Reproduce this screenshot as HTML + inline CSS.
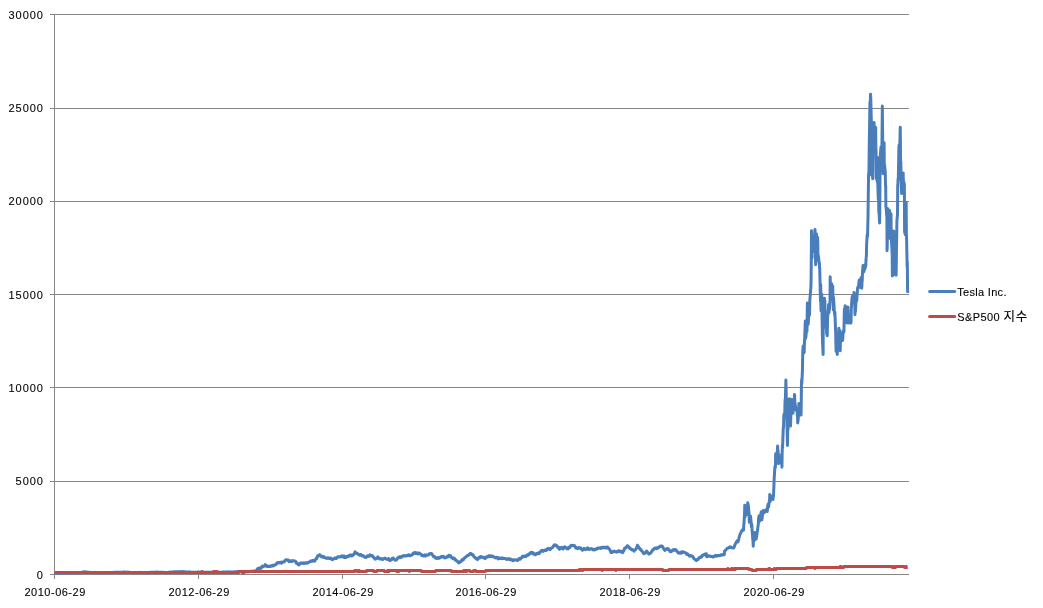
<!DOCTYPE html>
<html><head><meta charset="utf-8"><style>
html,body{margin:0;padding:0;background:#fff;}
body{width:1043px;height:608px;overflow:hidden;}
svg{display:block;}
text{font-family:"Liberation Sans", "Noto Sans CJK KR", sans-serif;font-size:11px;fill:#000;stroke:#000;stroke-width:0.1px;}
</style></head><body>
<svg width="1043" height="608" viewBox="0 0 1043 608">
<rect width="1043" height="608" fill="#fff"/>
<rect x="50" y="14" width="859" height="1" fill="#868686"/><rect x="50" y="108" width="859" height="1" fill="#868686"/><rect x="50" y="201" width="859" height="1" fill="#868686"/><rect x="50" y="294" width="859" height="1" fill="#868686"/><rect x="50" y="387" width="859" height="1" fill="#868686"/><rect x="50" y="481" width="859" height="1" fill="#868686"/><rect x="54" y="14" width="1" height="561" fill="#868686"/><rect x="50" y="574" width="859" height="1" fill="#868686"/><rect x="54" y="575" width="1" height="4" fill="#868686"/><rect x="198" y="575" width="1" height="4" fill="#868686"/><rect x="342" y="575" width="1" height="4" fill="#868686"/><rect x="485" y="575" width="1" height="4" fill="#868686"/><rect x="629" y="575" width="1" height="4" fill="#868686"/><rect x="773" y="575" width="1" height="4" fill="#868686"/>
<path d="M54.50 572.63L54.89 572.78L55.22 572.92L55.55 573.10L55.88 573.24L56.07 573.27L56.37 573.20L56.67 573.11L56.96 573.05L57.26 573.05L57.60 573.01L57.94 572.99L58.29 572.94L58.63 572.89L58.93 572.92L59.22 572.86L59.52 572.93L59.81 572.98L60.11 573.02L60.40 572.96L60.70 572.90L61.00 572.88L61.29 572.88L61.59 572.92L61.88 572.94L62.18 572.99L62.47 572.98L62.77 573.02L63.06 573.03L63.36 572.99L63.65 573.07L63.95 573.09L64.24 573.14L64.54 573.11L64.83 573.06L65.13 573.04L65.42 573.03L65.72 573.05L66.06 573.07L66.41 573.05L66.75 573.00L67.10 572.98L67.38 573.03L67.67 572.98L67.95 572.99L68.24 573.01L68.52 572.93L68.81 572.92L69.09 572.98L69.38 572.87L69.67 572.85L69.95 572.84L70.24 572.79L70.52 572.81L70.81 572.80L71.09 572.72L71.38 572.76L71.66 572.79L71.95 572.83L72.23 572.89L72.52 572.91L72.80 572.91L73.09 572.86L73.38 572.90L73.66 572.89L73.95 572.88L74.23 572.83L74.52 572.80L74.80 572.79L75.09 572.87L75.37 572.78L75.66 572.72L75.94 572.75L76.23 572.84L76.51 572.88L76.80 572.80L77.09 572.69L77.37 572.72L77.66 572.70L77.94 572.66L78.23 572.73L78.51 572.80L78.81 572.74L79.10 572.68L79.40 572.64L79.69 572.65L79.99 572.62L80.28 572.57L80.58 572.54L80.87 572.39L81.17 572.39L81.46 572.37L81.76 572.33L82.06 572.16L82.35 572.10L82.65 572.11L82.94 571.98L83.24 571.94L83.53 571.96L83.83 571.86L84.12 571.91L84.42 571.90L84.71 571.86L85.01 571.84L85.30 571.90L85.60 571.93L85.89 572.01L86.19 572.00L86.48 572.00L86.78 572.08L87.07 572.11L87.37 572.09L87.66 572.17L87.96 572.27L88.26 572.28L88.55 572.24L88.85 572.26L89.14 572.28L89.44 572.30L89.73 572.40L90.03 572.37L90.32 572.47L90.62 572.43L90.91 572.42L91.20 572.44L91.49 572.49L91.78 572.52L92.07 572.53L92.37 572.53L92.66 572.52L92.95 572.54L93.24 572.52L93.53 572.53L93.82 572.55L94.11 572.54L94.40 572.56L94.69 572.58L94.98 572.67L95.27 572.68L95.56 572.65L95.85 572.62L96.14 572.61L96.43 572.64L96.72 572.62L97.01 572.62L97.30 572.73L97.58 572.61L97.87 572.56L98.16 572.59L98.44 572.62L98.73 572.64L99.01 572.63L99.30 572.67L99.58 572.69L99.87 572.68L100.15 572.81L100.44 572.84L100.72 572.82L101.01 572.82L101.30 572.82L101.58 572.83L101.87 572.70L102.15 572.69L102.44 572.75L102.72 572.70L103.01 572.68L103.30 572.71L103.59 572.74L103.88 572.80L104.17 572.69L104.47 572.66L104.76 572.62L105.05 572.64L105.34 572.68L105.63 572.52L105.92 572.56L106.21 572.47L106.50 572.49L106.79 572.40L107.08 572.39L107.37 572.43L107.66 572.41L107.95 572.40L108.24 572.42L108.53 572.41L108.82 572.39L109.11 572.46L109.40 572.51L109.70 572.48L109.99 572.61L110.28 572.55L110.57 572.59L110.86 572.57L111.15 572.57L111.44 572.60L111.73 572.60L112.02 572.63L112.31 572.54L112.60 572.46L112.89 572.48L113.18 572.43L113.47 572.37L113.76 572.29L114.05 572.35L114.34 572.38L114.63 572.44L114.93 572.39L115.21 572.37L115.49 572.29L115.77 572.31L116.05 572.37L116.33 572.30L116.61 572.36L116.89 572.38L117.17 572.35L117.46 572.23L117.74 572.28L118.02 572.26L118.30 572.20L118.58 572.20L118.86 572.20L119.14 572.26L119.42 572.18L119.71 572.22L119.99 572.27L120.27 572.32L120.55 572.29L120.83 572.23L121.11 572.27L121.39 572.27L121.67 572.26L121.95 572.32L122.24 572.30L122.52 572.17L122.80 572.14L123.08 572.03L123.36 572.06L123.64 572.07L123.92 572.03L124.20 572.01L124.49 572.04L124.77 572.04L125.05 572.09L125.33 572.08L125.61 572.12L125.89 572.18L126.17 572.25L126.45 572.20L126.73 572.23L127.02 572.17L127.31 572.15L127.60 572.08L127.89 572.17L128.17 572.14L128.46 572.17L128.75 572.19L129.04 572.22L129.32 572.22L129.61 572.27L129.90 572.39L130.19 572.42L130.47 572.48L130.76 572.56L131.05 572.58L131.34 572.55L131.62 572.55L131.91 572.64L132.20 572.59L132.49 572.59L132.78 572.67L133.06 572.74L133.35 572.77L133.64 572.85L133.93 572.89L134.21 572.86L134.51 572.79L134.80 572.77L135.10 572.83L135.39 572.82L135.69 572.78L135.99 572.76L136.28 572.69L136.58 572.70L136.87 572.65L137.17 572.68L137.46 572.58L137.76 572.60L138.05 572.58L138.35 572.50L138.64 572.55L138.94 572.55L139.22 572.43L139.51 572.38L139.80 572.39L140.08 572.36L140.37 572.40L140.66 572.43L140.94 572.46L141.23 572.47L141.51 572.53L141.80 572.56L142.09 572.57L142.37 572.46L142.66 572.50L142.95 572.56L143.23 572.54L143.52 572.51L143.80 572.61L144.09 572.51L144.38 572.53L144.66 572.65L144.95 572.60L145.24 572.62L145.52 572.69L145.81 572.66L146.09 572.66L146.38 572.68L146.66 572.61L146.95 572.58L147.23 572.56L147.52 572.58L147.80 572.55L148.09 572.51L148.38 572.44L148.66 572.39L148.95 572.41L149.23 572.39L149.52 572.32L149.80 572.25L150.09 572.36L150.37 572.39L150.66 572.39L150.94 572.23L151.23 572.25L151.51 572.25L151.79 572.32L152.07 572.32L152.35 572.30L152.63 572.31L152.91 572.19L153.19 572.23L153.47 572.22L153.76 572.17L154.04 572.22L154.32 572.29L154.60 572.20L154.88 572.15L155.16 572.15L155.44 572.14L155.72 572.10L156.01 572.03L156.29 572.12L156.57 572.16L156.85 572.08L157.13 572.01L157.42 572.10L157.70 572.16L157.99 572.25L158.28 572.30L158.56 572.26L158.85 572.27L159.13 572.17L159.42 572.14L159.70 572.14L159.99 572.17L160.27 572.14L160.56 572.13L160.84 572.16L161.13 572.18L161.42 572.22L161.70 572.24L161.99 572.22L162.27 572.27L162.56 572.27L162.86 572.30L163.17 572.33L163.48 572.39L163.78 572.45L164.09 572.52L164.39 572.59L164.70 572.66L165.01 572.72L165.31 572.72L165.60 572.72L165.89 572.75L166.18 572.75L166.46 572.72L166.75 572.72L167.04 572.65L167.33 572.53L167.61 572.51L167.90 572.44L168.19 572.46L168.48 572.38L168.76 572.23L169.05 572.16L169.34 572.20L169.62 572.14L169.91 572.03L170.19 571.96L170.48 571.95L170.76 571.93L171.05 571.90L171.34 571.94L171.62 571.94L171.91 571.90L172.19 571.89L172.48 571.94L172.76 571.95L173.05 571.96L173.33 571.87L173.62 571.82L173.90 571.82L174.19 571.77L174.47 571.79L174.76 571.78L175.05 571.79L175.33 571.74L175.62 571.83L175.90 571.85L176.19 571.80L176.47 571.77L176.76 571.86L177.04 571.81L177.33 571.81L177.61 571.82L177.90 571.79L178.18 571.69L178.47 571.66L178.76 571.64L179.04 571.66L179.33 571.66L179.61 571.63L179.90 571.63L180.18 571.62L180.47 571.59L180.75 571.62L181.04 571.64L181.33 571.70L181.61 571.67L181.90 571.67L182.19 571.69L182.47 571.65L182.76 571.65L183.04 571.58L183.33 571.57L183.62 571.62L183.90 571.68L184.19 571.70L184.48 571.72L184.76 571.67L185.05 571.79L185.33 571.84L185.62 571.92L185.91 571.90L186.19 571.92L186.48 571.86L186.77 571.92L187.06 572.00L187.35 571.94L187.64 571.96L187.93 572.03L188.22 571.97L188.51 571.91L188.80 571.89L189.09 571.89L189.38 571.85L189.67 571.88L189.96 571.92L190.25 571.99L190.54 572.05L190.83 572.16L191.12 572.25L191.41 572.21L191.71 572.22L192.00 572.20L192.29 572.18L192.58 572.20L192.87 572.23L193.16 572.27L193.45 572.21L193.74 572.17L194.03 572.18L194.32 572.19L194.61 572.19L194.90 572.20L195.19 572.18L195.48 572.23L195.77 572.27L196.06 572.28L196.35 572.26L196.64 572.27L196.94 572.15L197.23 572.12L197.52 572.13L197.81 572.08L198.10 572.10L198.39 572.13L198.68 572.07L198.97 572.08L199.25 572.08L199.53 572.12L199.81 572.16L200.09 572.18L200.38 572.15L200.66 572.16L200.94 572.17L201.22 572.22L201.50 572.26L201.78 572.24L202.06 572.18L202.34 572.18L202.62 572.16L202.91 572.12L203.19 572.13L203.47 572.12L203.75 572.14L204.03 572.18L204.31 572.18L204.59 572.31L204.87 572.31L205.16 572.35L205.46 572.33L205.75 572.37L206.04 572.23L206.33 572.18L206.62 572.17L206.91 572.18L207.20 572.28L207.49 572.27L207.78 572.32L208.07 572.34L208.37 572.36L208.66 572.37L208.95 572.34L209.24 572.35L209.53 572.27L209.82 572.31L210.11 572.24L210.40 572.24L210.69 572.32L210.98 572.29L211.28 572.27L211.57 572.31L211.86 572.29L212.16 572.23L212.45 572.23L212.75 572.24L213.04 572.25L213.34 572.19L213.63 572.26L213.93 572.33L214.22 572.31L214.52 572.30L214.81 572.26L215.11 572.31L215.40 572.26L215.70 572.27L215.99 572.23L216.29 572.17L216.58 572.19L216.88 572.23L217.17 572.22L217.46 572.17L217.75 572.20L218.04 572.18L218.33 572.18L218.62 572.25L218.91 572.29L219.20 572.25L219.50 572.35L219.79 572.34L220.08 572.36L220.37 572.32L220.66 572.30L220.95 572.20L221.24 572.27L221.53 572.33L221.82 572.25L222.11 572.16L222.40 572.07L222.69 572.11L222.98 572.08L223.26 572.07L223.54 572.06L223.83 572.05L224.11 571.99L224.39 571.99L224.67 571.92L224.95 571.91L225.23 571.93L225.51 571.95L225.79 571.94L226.07 571.89L226.36 571.90L226.64 571.87L226.92 571.95L227.20 571.99L227.48 571.98L227.76 571.95L228.04 571.92L228.32 571.87L228.61 571.85L228.89 571.86L229.17 571.89L229.45 571.91L229.73 572.02L230.01 571.98L230.29 571.98L230.57 572.12L230.85 572.02L231.14 572.00L231.42 572.00L231.70 572.01L231.98 572.03L232.26 572.02L232.54 572.03L232.82 572.03L233.10 572.07L233.39 571.98L233.67 571.93L233.95 571.93L234.23 571.87L234.51 571.82L234.79 571.85L235.08 571.80L235.36 571.81L235.65 571.82L235.94 571.82L236.22 571.82L236.51 571.80L236.80 571.70L237.08 571.68L237.37 571.68L237.65 571.64L237.94 571.61L238.23 571.63L238.51 571.56L238.80 571.57L239.09 571.64L239.37 571.59L239.66 571.58L239.94 571.55L240.23 571.61L240.52 571.60L240.80 571.63L241.09 571.57L241.38 571.59L241.67 571.60L241.96 571.53L242.25 571.62L242.54 571.68L242.83 571.61L243.12 571.66L243.41 571.67L243.70 571.71L243.99 571.74L244.28 571.68L244.57 571.69L244.86 571.78L245.15 571.76L245.44 571.73L245.73 571.68L246.02 571.63L246.31 571.66L246.60 571.77L246.89 571.75L247.18 571.73L247.47 571.81L247.76 571.76L248.05 571.69L248.34 571.68L248.63 571.68L248.93 571.60L249.22 571.50L249.51 571.49L249.80 571.47L250.09 571.37L250.38 571.33L250.67 571.27L250.96 571.26L251.25 571.22L251.54 571.18L251.83 571.13L252.12 571.15L252.41 571.19L252.70 571.14L252.98 571.16L253.26 571.10L253.55 571.08L253.83 571.09L254.11 571.14L254.39 571.10L254.67 571.07L254.95 571.06L255.23 570.96L255.51 570.94L255.80 570.88L256.08 570.87L256.36 570.79L256.64 570.67L256.92 570.65L257.20 570.64L257.48 570.59L257.76 570.61L258.04 570.57L258.33 570.52L258.61 570.52L256.90 569.90L257.19 569.18L257.47 568.78L257.76 568.61L258.05 568.74L258.34 568.51L258.62 568.45L258.91 568.06L259.20 568.00L259.49 568.41L259.77 568.01L260.06 568.67L260.35 568.27L260.64 568.11L260.93 568.01L261.21 568.20L261.50 567.60L261.79 566.51L262.08 566.36L262.37 566.28L262.66 566.14L262.95 566.70L263.24 566.41L263.53 566.14L263.82 566.11L264.11 565.88L264.40 566.10L264.69 565.77L264.97 565.75L265.26 564.65L265.54 565.04L265.83 565.01L266.11 565.44L266.40 566.30L266.69 566.41L266.97 566.42L267.26 566.35L267.54 566.17L267.83 566.05L268.11 566.38L268.40 566.50L268.69 566.41L268.97 566.23L269.26 566.44L269.55 566.49L269.84 566.33L270.12 566.44L270.41 566.28L270.70 565.76L270.99 566.15L271.27 566.20L271.56 565.75L271.85 566.01L272.14 566.01L272.43 565.35L272.71 565.80L273.00 565.80L273.29 565.95L273.58 565.85L273.88 565.63L274.17 564.93L274.46 565.10L274.75 564.95L275.04 564.68L275.33 564.64L275.62 564.50L275.92 564.57L276.21 564.28L276.50 564.10L276.78 563.13L277.07 562.76L277.35 562.77L277.63 563.02L277.92 562.67L278.20 562.40L278.48 562.74L278.77 562.40L279.05 562.44L279.33 562.80L279.62 562.59L279.90 562.80L280.19 562.43L280.48 562.37L280.77 562.22L281.07 562.13L281.36 562.40L281.65 563.11L281.94 562.75L282.23 562.43L282.52 562.47L282.82 561.98L283.11 562.03L283.40 562.10L283.69 561.89L283.97 561.96L284.26 561.30L284.54 561.45L284.83 560.79L285.11 560.43L285.40 560.12L285.69 559.86L285.97 560.05L286.26 559.96L286.54 559.70L286.83 559.78L287.11 560.21L287.40 560.10L287.69 560.18L287.97 560.56L288.26 560.60L288.54 560.10L288.83 560.92L289.11 561.64L289.40 560.89L289.69 560.82L289.97 560.92L290.26 561.20L290.54 561.39L290.83 561.24L291.11 560.82L291.40 560.80L291.69 561.34L291.99 561.14L292.28 560.95L292.57 561.12L292.86 560.62L293.16 560.71L293.45 560.74L293.74 561.07L294.04 561.00L294.33 560.87L294.62 560.91L294.91 561.07L295.21 561.02L295.50 561.20L295.78 561.76L296.07 562.47L296.35 563.36L296.63 563.38L296.92 563.53L297.20 562.96L297.48 563.92L297.77 563.96L298.05 564.24L298.33 564.72L298.62 564.54L298.90 565.00L299.19 564.78L299.48 563.92L299.77 563.81L300.06 564.01L300.35 563.14L300.64 563.21L300.93 563.07L301.22 563.02L301.51 562.96L301.80 563.20L302.10 563.07L302.40 563.33L302.70 563.14L303.00 563.34L303.30 563.01L303.60 562.92L303.90 563.47L304.20 563.58L304.50 563.48L304.80 563.03L305.10 562.70L305.39 562.66L305.68 562.88L305.98 562.92L306.27 563.00L306.56 562.88L306.85 563.24L307.15 563.00L307.44 562.70L307.73 562.90L308.02 562.81L308.32 562.61L308.61 562.30L308.90 562.10L309.20 562.18L309.50 562.16L309.80 561.59L310.10 561.60L310.40 561.52L310.70 561.03L311.00 561.16L311.30 560.92L311.60 560.66L311.90 560.80L312.19 561.10L312.48 560.70L312.77 560.70L313.07 560.23L313.36 560.88L313.65 560.55L313.94 560.81L314.23 560.42L314.52 560.54L314.82 561.16L315.11 560.11L315.40 559.80L315.69 559.51L315.97 559.02L316.26 558.32L316.55 558.61L316.84 558.17L317.12 557.13L317.41 556.97L317.70 555.90L317.98 556.13L318.27 555.75L318.55 555.63L318.83 555.89L319.12 555.76L319.40 555.10L319.69 554.68L319.97 555.27L320.26 555.70L320.55 555.59L320.84 556.07L321.12 556.42L321.41 556.82L321.70 556.20L321.99 556.14L322.28 556.49L322.57 556.79L322.86 557.14L323.15 556.32L323.44 556.42L323.73 556.63L324.02 557.57L324.31 557.27L324.60 557.20L324.91 557.33L325.22 557.76L325.53 557.73L325.84 558.25L326.16 558.10L326.47 558.31L326.78 558.25L327.09 558.42L327.40 558.30L327.69 557.75L327.98 558.13L328.27 558.25L328.56 558.06L328.85 558.13L329.14 558.49L329.43 558.15L329.72 558.12L330.01 558.31L330.30 558.50L330.59 558.59L330.88 558.06L331.16 558.70L331.45 559.02L331.74 559.23L332.03 559.34L332.31 559.64L332.60 559.70L332.89 559.34L333.18 559.09L333.48 558.88L333.77 558.67L334.06 558.27L334.35 558.49L334.64 558.04L334.93 558.27L335.23 557.92L335.52 558.04L335.81 558.53L336.10 558.60L336.38 558.22L336.67 558.12L336.95 558.05L337.23 557.32L337.52 556.98L337.80 556.92L338.08 556.63L338.37 556.54L338.65 556.67L338.93 556.82L339.22 557.02L339.50 557.10L339.79 556.99L340.07 556.97L340.36 556.86L340.65 556.74L340.94 556.66L341.23 556.05L341.51 555.92L341.80 555.90L342.09 555.72L342.38 555.88L342.68 556.23L342.97 556.33L343.26 557.23L343.55 556.48L343.84 556.57L344.13 556.10L344.43 556.61L344.72 557.70L345.01 556.99L345.30 557.20L345.58 557.33L345.87 557.18L346.15 557.33L346.43 556.49L346.72 556.75L347.00 556.83L347.28 556.79L347.57 556.54L347.85 556.71L348.13 556.50L348.42 556.53L348.70 556.30L348.99 555.43L349.28 555.33L349.57 555.32L349.87 555.49L350.16 555.10L350.45 555.01L350.74 555.14L351.03 555.10L351.32 555.45L351.62 556.06L351.91 555.66L352.20 554.90L352.48 554.90L352.77 555.13L353.05 555.15L353.33 555.13L353.62 554.61L353.90 554.06L354.18 554.07L354.47 553.45L354.75 552.51L355.03 551.86L355.32 552.43L355.60 552.80L355.89 552.76L356.18 552.71L356.48 552.99L356.77 552.93L357.06 553.59L357.35 553.76L357.64 553.58L357.93 554.24L358.23 554.23L358.52 554.51L358.81 554.71L359.10 554.80L359.40 555.23L359.70 555.31L360.00 554.98L360.30 554.52L360.60 554.39L360.90 554.45L361.20 554.75L361.50 555.09L361.80 555.60L362.10 555.96L362.40 556.00L362.69 555.97L362.97 555.45L363.26 555.61L363.55 556.01L363.84 556.41L364.12 556.59L364.41 556.75L364.70 557.30L364.98 557.13L365.26 557.21L365.54 557.24L365.82 557.14L366.10 557.42L366.38 557.05L366.66 556.74L366.94 556.29L367.22 555.83L367.50 556.20L367.79 556.48L368.07 556.16L368.36 556.02L368.65 556.10L368.94 556.05L369.23 556.13L369.51 555.36L369.80 554.80L370.09 555.06L370.38 555.67L370.66 555.81L370.95 555.61L371.24 555.59L371.53 555.47L371.81 555.27L372.10 555.90L372.39 555.78L372.68 555.88L372.97 556.73L373.26 557.25L373.55 557.46L373.84 557.34L374.13 557.58L374.42 558.25L374.71 558.56L375.00 559.10L375.28 558.91L375.56 558.87L375.84 558.58L376.12 558.51L376.40 558.75L376.68 558.03L376.96 557.78L377.24 557.65L377.52 557.23L377.80 556.90L378.09 557.27L378.38 558.06L378.68 558.37L378.97 558.58L379.26 558.13L379.55 558.90L379.84 559.02L380.13 559.10L380.43 558.80L380.72 558.87L381.01 558.58L381.30 558.70L381.59 558.94L381.87 559.03L382.16 559.20L382.44 558.98L382.73 559.55L383.01 559.40L383.30 558.84L383.59 558.85L383.87 558.66L384.16 558.38L384.44 558.33L384.73 558.51L385.01 558.17L385.30 558.20L385.59 558.75L385.88 559.04L386.18 559.04L386.47 559.14L386.76 559.15L387.05 559.19L387.34 559.50L387.63 559.52L387.93 558.73L388.22 558.78L388.51 558.52L388.80 558.80L389.09 558.97L389.38 559.40L389.66 560.54L389.95 560.56L390.24 560.55L390.53 560.43L390.81 559.98L391.10 559.70L391.38 559.79L391.67 559.53L391.95 558.84L392.23 558.29L392.52 558.47L392.80 558.16L393.08 558.00L393.37 558.08L393.65 558.52L393.93 559.16L394.22 559.49L394.50 559.50L394.79 559.41L395.08 559.89L395.38 560.24L395.67 559.98L395.96 559.99L396.25 559.93L396.54 559.80L396.83 559.47L397.12 558.86L397.42 558.52L397.71 557.82L398.00 558.10L398.28 558.03L398.57 557.35L398.85 557.57L399.13 557.63L399.42 556.70L399.70 557.08L399.98 557.10L400.27 557.57L400.55 556.88L400.83 556.80L401.12 556.69L401.40 556.50L401.69 556.63L401.98 557.06L402.27 556.60L402.57 556.23L402.86 555.81L403.15 555.68L403.44 555.53L403.73 555.73L404.02 555.88L404.32 555.96L404.61 555.79L404.90 555.70L405.18 555.85L405.47 555.94L405.75 555.80L406.03 555.51L406.32 555.87L406.60 555.48L406.88 555.53L407.17 555.76L407.45 555.48L407.73 555.59L408.02 555.02L408.30 555.20L408.59 555.37L408.88 554.92L409.16 555.25L409.45 555.04L409.74 555.59L410.03 555.46L410.31 555.50L410.60 555.70L410.89 555.43L411.18 555.37L411.47 555.02L411.76 555.11L412.05 554.96L412.34 554.88L412.63 553.76L412.92 554.02L413.21 553.88L413.50 553.10L413.80 552.93L414.10 552.88L414.40 553.05L414.70 552.47L415.00 552.80L415.29 552.67L415.58 553.43L415.88 553.30L416.17 553.47L416.46 553.26L416.75 552.80L417.04 553.10L417.33 553.35L417.62 553.81L417.92 554.03L418.21 553.76L418.50 553.10L418.78 553.07L419.07 553.03L419.35 552.95L419.63 553.35L419.92 553.66L420.20 553.77L420.48 554.02L420.77 554.17L421.05 554.45L421.33 554.91L421.62 555.44L421.90 555.40L422.19 554.92L422.48 555.47L422.77 555.56L423.07 555.99L423.36 555.47L423.65 555.40L423.94 555.46L424.23 555.00L424.52 554.87L424.82 555.17L425.11 555.59L425.40 556.20L425.68 555.77L425.96 555.15L426.24 555.20L426.52 555.40L426.80 555.33L427.08 554.75L427.36 554.89L427.64 555.04L427.92 555.10L428.20 554.80L428.49 554.76L428.77 554.90L429.06 554.56L429.35 553.77L429.64 553.74L429.93 553.77L430.21 553.63L430.50 553.80L430.79 553.63L431.08 553.63L431.38 553.55L431.67 553.78L431.96 554.37L432.25 554.32L432.54 555.07L432.83 555.64L433.12 555.94L433.42 556.18L433.71 556.83L434.00 556.80L434.28 556.89L434.57 556.64L434.85 556.93L435.13 557.53L435.42 557.84L435.70 558.12L435.98 558.17L436.27 558.36L436.55 557.98L436.83 558.48L437.12 558.46L437.40 558.20L437.69 557.90L437.98 557.57L438.27 557.83L438.56 558.16L438.85 557.65L439.14 557.93L439.43 558.20L439.72 557.96L440.01 557.40L440.30 557.10L440.59 557.01L440.88 557.26L441.18 557.27L441.47 556.69L441.76 556.90L442.05 556.50L442.34 556.94L442.63 556.65L442.93 556.54L443.22 556.37L443.51 556.31L443.80 556.90L444.08 557.34L444.37 557.70L444.65 557.96L444.93 557.56L445.22 557.53L445.50 557.48L445.78 557.28L446.07 557.61L446.35 557.50L446.63 557.39L446.92 557.17L447.20 556.60L447.49 556.66L447.78 556.97L448.07 556.88L448.37 556.39L448.66 555.29L448.95 555.20L449.24 555.47L449.53 555.42L449.82 555.60L450.12 555.96L450.41 556.21L450.70 555.90L450.99 556.71L451.27 557.43L451.56 557.33L451.85 557.63L452.14 557.58L452.43 557.98L452.71 558.63L453.00 558.70L453.29 557.94L453.58 558.35L453.87 558.44L454.16 558.91L454.45 558.40L454.74 558.73L455.03 559.41L455.32 560.07L455.61 559.95L455.90 560.00L456.18 560.12L456.46 560.64L456.74 561.17L457.02 561.37L457.30 561.07L457.58 561.50L457.86 561.51L458.14 561.90L458.42 562.16L458.70 562.90L458.99 562.91L459.28 562.36L459.57 562.09L459.86 562.31L460.15 561.73L460.44 561.49L460.73 561.52L461.02 561.56L461.31 561.35L461.60 560.50L461.89 559.79L462.18 559.60L462.47 559.46L462.76 560.08L463.05 559.51L463.34 559.63L463.63 559.63L463.92 558.77L464.21 558.21L464.50 558.00L464.79 557.65L465.07 557.43L465.36 557.42L465.65 556.96L465.94 556.95L466.23 556.55L466.51 556.19L466.80 556.20L467.09 555.72L467.38 555.54L467.67 555.82L467.96 555.55L468.25 555.22L468.54 555.20L468.83 554.79L469.12 554.89L469.41 554.16L469.70 554.10L470.00 553.82L470.30 553.43L470.60 553.94L470.90 553.54L471.20 554.05L471.50 554.18L471.80 554.58L472.10 554.13L472.40 554.45L472.70 554.85L473.01 555.09L473.32 555.32L473.64 556.45L473.95 556.79L474.26 556.92L474.57 556.98L474.89 557.41L475.20 557.80L475.48 557.85L475.77 558.45L476.05 558.32L476.33 558.48L476.62 558.98L476.90 558.62L477.18 558.97L477.47 559.61L477.75 559.12L478.03 558.73L478.32 558.36L478.60 557.70L478.89 557.87L479.18 557.24L479.47 557.42L479.76 557.95L480.05 557.39L480.34 557.30L480.63 556.64L480.92 556.92L481.21 556.68L481.50 556.60L481.79 556.83L482.08 557.23L482.38 557.31L482.67 557.53L482.96 557.54L483.25 557.79L483.54 557.59L483.83 557.82L484.12 557.35L484.42 557.39L484.71 558.26L485.00 558.50L485.28 558.03L485.57 558.08L485.85 557.71L486.13 557.10L486.42 556.81L486.70 557.04L486.98 557.14L487.27 557.07L487.55 556.72L487.83 556.31L488.12 556.75L488.40 556.80L488.69 556.56L488.98 555.92L489.27 555.54L489.57 556.50L489.86 556.19L490.15 556.26L490.44 556.43L490.73 556.47L491.02 556.47L491.32 556.09L491.61 555.81L491.90 556.50L492.18 556.36L492.46 556.77L492.74 556.30L493.02 556.33L493.30 556.54L493.58 557.02L493.86 556.75L494.14 557.08L494.42 557.34L494.70 557.20L494.99 557.66L495.28 557.65L495.57 557.66L495.87 557.96L496.16 557.30L496.45 557.56L496.74 557.51L497.03 557.29L497.32 557.44L497.62 558.00L497.91 558.16L498.20 558.90L498.48 558.38L498.77 557.81L499.05 558.24L499.33 558.26L499.62 558.48L499.90 558.08L500.18 558.25L500.47 558.22L500.75 558.34L501.03 558.23L501.32 558.54L501.60 558.20L501.89 558.12L502.19 557.86L502.48 558.52L502.77 558.52L503.06 558.41L503.36 558.34L503.65 558.44L503.94 558.26L504.24 558.41L504.53 558.45L504.82 558.51L505.11 558.43L505.41 558.70L505.70 558.80L505.98 558.99L506.27 559.23L506.55 559.49L506.83 558.88L507.12 558.84L507.40 558.71L507.68 559.13L507.97 558.73L508.25 558.63L508.53 558.67L508.82 558.70L509.10 559.20L509.39 559.16L509.68 559.61L509.98 559.22L510.27 558.70L510.56 559.24L510.85 559.51L511.14 559.79L511.43 559.95L511.73 560.23L512.02 559.92L512.31 560.37L512.60 560.30L512.88 560.68L513.17 560.75L513.45 560.09L513.73 559.68L514.02 560.11L514.30 560.09L514.58 559.99L514.87 560.11L515.15 560.00L515.43 559.84L515.72 559.91L516.00 560.00L516.29 560.14L516.58 559.77L516.87 560.04L517.16 560.28L517.45 560.49L517.74 560.47L518.03 560.13L518.32 559.78L518.61 559.35L518.90 558.70L519.19 558.67L519.48 558.44L519.77 559.01L520.06 559.20L520.35 559.03L520.64 558.36L520.93 558.34L521.22 558.19L521.51 557.80L521.80 557.40L522.10 556.42L522.40 556.42L522.70 556.20L523.00 556.91L523.30 556.70L523.60 556.46L523.90 556.77L524.20 556.62L524.50 556.48L524.80 556.16L525.10 555.75L525.39 556.04L525.68 556.15L525.98 556.51L526.27 556.15L526.56 555.93L526.85 555.38L527.14 555.48L527.43 554.75L527.73 554.71L528.02 554.86L528.31 555.12L528.60 554.55L528.90 554.70L529.20 554.21L529.50 553.72L529.80 553.02L530.10 553.19L530.40 553.53L530.70 553.09L531.00 552.59L531.30 552.24L531.60 552.88L531.90 553.00L532.19 553.03L532.48 552.62L532.77 552.61L533.07 553.24L533.36 554.12L533.65 554.25L533.94 554.23L534.23 554.27L534.52 553.83L534.82 554.37L535.11 554.21L535.40 554.80L535.68 554.18L535.97 553.71L536.25 553.78L536.53 553.49L536.82 553.73L537.10 553.71L537.38 553.27L537.67 553.47L537.95 553.73L538.23 553.04L538.52 553.65L538.80 553.80L539.08 553.83L539.37 552.95L539.65 552.46L539.93 552.10L540.22 552.25L540.50 551.50L540.79 551.27L541.08 550.64L541.38 550.64L541.67 550.84L541.96 550.33L542.25 550.20L542.54 550.46L542.83 551.09L543.12 551.41L543.42 551.38L543.71 551.05L544.00 550.80L544.29 550.39L544.58 550.27L544.87 550.07L545.16 550.48L545.45 550.40L545.74 549.85L546.03 550.21L546.32 550.37L546.61 550.23L546.90 549.80L547.18 549.15L547.47 548.79L547.75 549.11L548.03 548.83L548.32 548.36L548.60 548.43L548.88 548.52L549.17 548.73L549.45 548.96L549.73 549.45L550.02 549.16L550.30 549.50L550.59 548.76L550.88 548.61L551.17 548.28L551.46 547.98L551.75 547.92L552.04 547.52L552.33 547.52L552.62 547.44L552.91 547.09L553.20 546.50L553.49 545.95L553.78 545.47L554.06 545.12L554.35 544.82L554.64 545.57L554.92 545.51L555.21 545.49L555.50 544.90L555.78 544.95L556.07 545.14L556.35 545.50L556.63 545.44L556.92 546.30L557.20 546.40L557.49 547.13L557.78 546.66L558.06 547.01L558.35 547.46L558.64 547.88L558.92 548.44L559.21 548.89L559.50 549.30L559.79 548.65L560.08 548.41L560.37 547.60L560.66 547.83L560.95 547.95L561.24 547.89L561.53 547.62L561.82 547.43L562.11 548.08L562.40 548.70L562.69 548.62L562.98 549.01L563.27 548.39L563.57 547.65L563.86 547.42L564.15 547.06L564.44 546.80L564.73 546.80L565.02 547.80L565.32 547.51L565.61 547.46L565.90 547.50L566.18 547.61L566.47 548.07L566.75 548.82L567.03 548.51L567.32 548.69L567.60 548.73L567.88 548.98L568.17 548.57L568.45 548.08L568.73 547.40L569.02 547.71L569.30 547.90L569.59 547.84L569.88 546.93L570.17 546.71L570.47 546.37L570.76 545.79L571.05 545.38L571.34 545.54L571.63 545.65L571.92 545.56L572.22 545.65L572.51 545.36L572.80 545.30L573.08 545.37L573.36 545.61L573.64 545.64L573.92 545.64L574.20 545.65L574.48 545.48L574.76 546.31L575.04 546.54L575.32 546.75L575.60 547.60L575.89 547.99L576.18 547.35L576.48 547.50L576.77 547.69L577.06 548.26L577.35 548.62L577.64 548.79L577.93 548.28L578.23 547.88L578.52 547.88L578.81 547.95L579.10 547.50L579.40 547.62L579.70 547.74L580.00 548.02L580.30 548.40L580.60 548.44L580.90 548.14L581.20 548.71L581.50 549.41L581.80 549.51L582.10 550.01L582.40 550.30L582.69 550.14L582.98 549.91L583.27 549.25L583.56 549.06L583.85 549.02L584.14 548.32L584.43 548.61L584.72 548.95L585.01 549.20L585.30 549.50L585.58 549.66L585.87 549.45L586.15 549.14L586.43 548.76L586.72 548.70L587.00 548.59L587.28 548.73L587.57 547.92L587.85 548.63L588.13 549.33L588.42 549.23L588.70 549.37L588.98 549.43L589.27 549.43L589.55 549.26L589.83 549.12L590.12 548.74L590.40 548.70L590.68 548.77L590.96 548.97L591.24 548.75L591.52 548.85L591.80 548.95L592.08 549.24L592.36 548.95L592.64 549.18L592.92 549.61L593.20 549.90L593.49 549.68L593.78 549.41L594.08 549.23L594.37 549.40L594.66 549.85L594.95 549.70L595.24 549.38L595.53 549.42L595.83 549.39L596.12 548.98L596.41 548.63L596.70 548.50L596.99 548.80L597.27 548.44L597.56 548.14L597.84 548.38L598.13 548.01L598.41 548.11L598.70 548.30L598.99 548.32L599.27 548.02L599.56 548.07L599.84 548.01L600.13 548.19L600.41 547.96L600.70 548.40L600.99 547.71L601.28 547.55L601.56 547.45L601.85 547.69L602.14 547.38L602.42 547.47L602.71 547.17L603.00 547.33L603.29 547.83L603.58 547.59L603.86 547.65L604.15 547.22L604.44 547.46L604.72 547.79L605.01 547.70L605.30 547.20L605.59 547.27L605.88 547.61L606.17 547.92L606.47 548.14L606.76 547.43L607.05 547.12L607.34 547.55L607.63 547.06L607.92 547.39L608.22 547.98L608.51 548.18L608.80 548.50L609.09 548.93L609.38 549.06L609.66 549.57L609.95 550.05L610.24 550.59L610.52 551.38L610.81 551.88L611.10 552.50L611.39 552.38L611.67 552.11L611.96 552.48L612.25 552.37L612.54 552.13L612.83 551.79L613.11 551.30L613.40 551.50L613.68 551.66L613.97 551.38L614.25 551.29L614.53 551.35L614.82 551.30L615.10 551.78L615.38 551.48L615.67 551.76L615.95 551.91L616.23 551.61L616.52 551.73L616.80 551.80L617.09 551.95L617.38 551.76L617.67 551.84L617.96 551.23L618.25 550.83L618.54 551.08L618.83 551.42L619.12 551.38L619.41 551.15L619.70 551.50L619.99 551.02L620.28 550.99L620.57 551.47L620.86 551.95L621.15 551.84L621.44 551.43L621.73 552.19L622.02 552.49L622.31 552.43L622.60 552.70L622.89 552.53L623.18 551.13L623.47 551.03L623.76 550.80L624.05 549.58L624.34 549.36L624.63 548.24L624.92 548.15L625.21 547.80L625.50 548.10L625.78 547.59L626.07 547.30L626.35 547.38L626.63 546.86L626.92 546.32L627.20 545.90L627.49 546.06L627.78 545.86L628.07 546.21L628.36 546.58L628.65 546.78L628.94 547.56L629.23 547.63L629.52 548.27L629.81 548.25L630.10 548.70L630.39 548.41L630.67 548.87L630.96 549.19L631.24 549.41L631.53 549.58L631.81 549.85L632.10 549.98L632.39 549.60L632.67 549.78L632.96 549.98L633.24 550.18L633.53 550.20L633.81 550.54L634.10 551.20L634.39 550.58L634.67 549.88L634.96 549.83L635.25 549.64L635.54 549.44L635.83 549.32L636.11 548.67L636.40 548.10L636.73 547.51L637.07 546.33L637.40 545.30L637.69 545.71L637.98 546.11L638.26 546.29L638.55 546.91L638.84 547.12L639.12 547.65L639.41 548.30L639.70 548.80L640.01 549.45L640.33 549.44L640.64 549.38L640.96 549.55L641.27 550.11L641.59 551.03L641.90 551.00L642.18 551.56L642.47 551.72L642.75 551.92L643.03 552.27L643.32 552.97L643.60 553.50L643.89 553.68L644.18 553.10L644.48 553.18L644.77 553.27L645.06 553.07L645.35 553.00L645.64 552.57L645.93 551.96L646.23 551.58L646.52 551.12L646.81 551.90L647.10 551.50L647.39 552.28L647.67 552.56L647.96 552.87L648.25 553.33L648.54 553.27L648.83 553.79L649.11 554.13L649.40 553.80L649.69 553.57L649.98 553.32L650.27 553.04L650.56 553.15L650.85 552.57L651.14 552.31L651.43 552.13L651.72 551.37L652.01 551.35L652.30 550.40L652.58 549.91L652.86 550.05L653.14 549.63L653.42 549.55L653.70 548.93L653.98 548.92L654.26 548.48L654.54 548.56L654.82 547.98L655.10 548.10L655.39 548.18L655.68 548.38L655.98 548.53L656.27 548.75L656.56 548.46L656.85 547.74L657.14 547.93L657.43 547.77L657.73 547.79L658.02 548.11L658.31 547.59L658.60 547.50L658.89 547.25L659.18 546.84L659.47 546.92L659.76 546.84L660.05 546.51L660.34 546.13L660.63 546.38L660.92 546.11L661.21 546.28L661.50 546.40L661.78 546.05L662.07 545.98L662.35 546.29L662.63 546.72L662.92 547.30L663.20 547.89L663.48 548.56L663.77 548.74L664.05 548.98L664.33 549.56L664.62 549.72L664.90 550.40L665.19 549.76L665.48 549.90L665.77 549.75L666.06 548.97L666.35 549.23L666.64 549.25L666.93 549.17L667.22 548.71L667.51 548.46L667.80 548.90L668.09 549.31L668.38 548.80L668.66 549.20L668.95 549.49L669.24 550.14L669.52 550.71L669.81 551.09L670.10 551.50L670.39 551.74L670.68 551.10L670.97 551.66L671.26 551.34L671.55 550.82L671.84 550.97L672.13 551.04L672.42 550.54L672.71 550.67L673.00 549.90L673.28 549.62L673.57 550.07L673.85 550.02L674.13 549.62L674.42 549.84L674.70 550.21L674.98 550.25L675.27 549.67L675.55 549.59L675.83 549.79L676.12 550.10L676.40 550.80L676.69 551.04L676.98 551.19L677.26 551.51L677.55 552.25L677.84 552.25L678.12 553.03L678.41 552.40L678.70 553.00L678.99 552.78L679.28 552.96L679.58 553.22L679.87 552.82L680.16 552.81L680.45 552.91L680.74 553.14L681.03 552.83L681.33 552.50L681.62 551.84L681.91 552.75L682.20 552.70L682.49 552.51L682.78 551.87L683.06 552.09L683.35 551.79L683.64 552.18L683.92 552.36L684.21 552.26L684.50 552.40L684.78 552.38L685.07 552.64L685.35 552.80L685.63 552.73L685.92 553.11L686.20 553.42L686.48 554.30L686.77 553.49L687.05 553.63L687.33 553.68L687.62 553.88L687.90 554.40L688.21 554.82L688.52 555.11L688.84 555.22L689.15 555.68L689.46 556.08L689.77 555.71L690.09 555.90L690.40 555.70L690.70 555.49L691.00 555.75L691.30 555.98L691.60 556.22L691.90 556.12L692.20 556.26L692.50 556.14L692.80 556.48L693.10 556.93L693.40 557.75L693.70 558.40L696.34 560.59L696.64 560.18L696.94 559.85L697.23 559.40L697.53 559.26L697.82 559.54L698.12 559.50L698.41 558.74L698.71 558.21L699.00 557.67L699.30 557.59L699.59 557.37L699.89 557.23L700.18 557.57L700.46 557.25L700.75 556.93L701.04 557.31L701.33 557.29L701.61 556.99L701.90 556.37L702.19 555.88L702.48 555.16L702.76 555.07L703.05 554.97L703.34 555.11L703.63 554.97L703.93 554.68L704.24 554.39L704.55 554.75L704.85 554.20L705.16 554.13L705.46 554.03L705.77 554.07L706.08 553.86L706.38 553.87L706.58 556.69L706.87 556.80L707.17 556.67L707.47 556.47L707.76 556.33L708.06 556.00L708.35 555.86L708.65 555.69L708.94 555.66L709.24 555.90L709.53 556.14L709.83 556.02L710.12 556.17L710.42 556.24L710.71 556.43L711.01 556.43L711.30 556.49L711.60 556.37L711.89 556.17L712.19 556.38L712.48 556.71L712.78 556.87L713.07 556.97L713.37 557.04L713.67 556.92L713.95 556.35L714.24 556.40L714.53 556.33L714.82 556.07L715.10 555.71L715.39 555.92L715.68 555.35L715.97 555.67L716.25 555.71L716.54 556.18L716.83 555.88L717.12 555.76L717.41 555.51L717.69 555.58L717.97 555.56L718.26 555.41L718.54 555.71L718.83 555.54L719.11 555.45L719.40 555.62L719.68 555.51L719.96 555.43L720.25 555.46L720.54 555.30L720.83 554.93L721.12 554.83L721.41 554.71L721.70 555.08L721.98 554.74L722.27 554.91L722.56 554.65L722.85 554.50L723.14 554.35L723.43 554.35L723.72 554.51L724.01 554.88L724.29 554.65L724.49 551.14L724.79 551.05L725.08 550.87L725.38 550.65L725.67 550.04L725.97 549.84L726.26 549.39L726.56 549.06L726.85 548.57L727.15 548.31L727.44 548.17L727.73 548.20L728.01 547.90L728.30 547.90L728.58 548.01L728.86 547.52L729.15 547.64L729.43 547.06L729.72 546.94L730.00 546.84L730.30 547.35L730.59 547.56L730.89 547.58L731.18 547.53L731.48 547.35L731.77 547.69L732.07 547.77L732.36 547.73L732.66 548.00L732.95 547.95L733.25 547.99L733.54 548.01L733.89 547.52L734.23 546.98L734.58 546.03L734.92 544.73L735.23 544.16L735.54 543.53L735.85 542.97L736.16 542.47L736.47 541.75L736.78 541.34L737.09 540.90L737.48 541.45L737.87 541.84L738.27 540.90L738.56 539.64L738.86 538.66L739.15 537.24L739.45 536.06L739.78 535.14L740.11 534.06L740.43 533.48L740.73 532.90L741.02 532.34L741.32 531.99L741.61 531.05L741.91 530.46L742.20 529.96L742.50 530.21L742.80 529.97L743.09 530.18L743.39 530.28L743.58 529.18L743.78 524.49L743.98 523.71L744.27 518.66L744.57 513.55L744.76 505.19L744.96 517.15L745.16 516.05L745.55 514.96L745.94 514.26L746.34 514.02L746.54 514.57L746.73 511.99L747.13 509.78L747.52 507.46L747.72 502.85L747.91 504.26L748.11 504.10L748.40 506.83L748.70 509.41L748.90 512.07L749.09 513.71L749.29 521.45L749.49 522.31L749.78 519.61L750.08 516.45L750.27 516.29L750.47 515.98L750.67 517.93L750.87 519.57L751.16 523.22L751.46 526.99L751.65 524.10L751.85 524.96L752.05 530.74L752.24 531.84L752.54 535.95L752.83 539.73L753.03 540.90L753.23 546.29L753.42 541.14L753.62 541.14L753.92 541.12L754.21 540.59L754.41 535.04L754.60 532.38L754.80 533.24L755.00 534.34L755.29 535.02L755.59 535.28L755.79 533.56L755.98 536.92L756.18 539.03L756.38 536.99L756.67 535.59L756.97 534.18L757.16 531.92L757.36 531.68L757.56 529.73L757.95 526.84L758.34 523.71L758.54 519.10L758.74 517.54L758.93 516.29L759.13 515.66L759.43 515.74L759.72 516.21L759.92 520.90L760.12 517.30L760.31 519.41L760.51 517.85L760.80 515.05L761.10 512.07L761.30 514.41L761.49 511.99L761.69 513.48L761.89 519.73L762.18 517.42L762.48 515.04L762.67 514.49L762.87 513.40L763.07 513.55L763.27 510.51L763.56 510.97L763.86 511.13L764.05 511.29L764.25 512.77L764.45 511.76L764.64 512.07L764.94 511.35L765.23 510.98L765.43 511.37L765.63 510.82L765.82 509.88L766.02 510.74L766.41 510.87L766.81 510.58L767.00 510.43L767.20 511.60L767.40 509.26L767.69 506.73L767.99 504.33L768.19 505.66L768.38 505.58L768.58 506.99L768.78 505.35L769.07 502.92L769.37 500.35L769.56 501.05L769.76 494.41L769.96 498.55L770.15 501.44L770.45 499.18L770.74 497.15L770.94 497.77L771.14 497.07L771.33 496.13L771.53 496.36L771.83 496.51L772.12 496.83L772.32 496.29L772.52 499.49L772.71 497.54L772.91 499.57L773.20 497.74L773.50 495.66L773.70 490.19L773.89 487.07L774.09 480.03L774.48 473.62L774.88 467.38L775.07 465.97L775.27 467.84L775.47 465.58L775.67 453.86L775.96 455.57L776.26 457.53L776.45 456.05L776.65 453.70L776.85 457.30L777.04 457.30L777.34 451.86L777.63 446.12L777.83 451.98L778.03 450.11L778.22 456.28L778.42 463.78L778.72 458.69L779.01 454.25L779.21 459.17L779.40 457.37L779.60 458.31L779.80 462.77L780.09 460.59L780.39 458.47L780.59 458.31L780.78 458.47L780.98 458.16L781.18 461.05L781.47 462.06L781.77 463.70L781.96 467.14L782.16 453.08L782.36 445.58L782.55 447.84L782.85 439.34L783.14 431.12L783.34 427.06L783.54 427.76L783.73 418.15L783.93 414.40L784.23 415.70L784.52 417.13L784.72 416.43L784.92 406.27L785.11 399.63L785.31 401.59L785.90 379.94L786.10 388.93L786.29 399.87L786.49 415.49L786.69 411.20L787.47 445.58L787.67 431.51L787.87 429.56L788.07 429.17L788.66 410.81L788.85 399.08L789.05 402.21L789.25 409.24L789.44 401.82L790.03 399.08L790.23 408.85L790.43 426.04L790.62 423.31L790.82 415.49L791.41 410.02L791.61 410.81L791.80 406.90L792.00 399.48L792.20 412.37L792.79 408.46L792.99 413.15L793.18 408.46L793.38 408.46L793.58 404.95L794.17 401.82L794.36 400.26L794.56 394.40L794.76 399.48L794.95 402.99L795.54 406.51L795.74 410.02L795.94 409.63L796.13 408.46L796.33 410.41L796.92 410.41L797.12 408.85L797.32 415.88L797.51 414.32L797.71 422.92L798.30 418.23L798.50 409.24L798.69 410.41L798.89 403.38L799.09 406.90L799.68 410.02L799.87 414.32L800.07 411.59L800.27 413.93L800.46 415.10L801.06 415.10L801.25 402.21L801.45 384.63L801.65 379.55L801.84 383.07L802.43 370.96L802.63 357.67L802.83 350.25L803.22 345.95L803.81 352.98L804.01 346.34L804.20 352.59L804.40 342.83L804.60 340.48L805.19 324.07L805.39 320.95L805.58 338.53L805.78 329.54L805.98 336.58L806.57 324.86L806.76 327.20L806.96 331.50L807.16 318.60L807.35 302.98L807.94 320.95L808.14 324.47L808.34 322.51L808.53 316.26L809.32 315.48L809.52 314.70L809.72 303.37L809.91 299.07L810.70 289.69L810.90 287.35L811.09 279.54L811.29 255.71L811.49 230.70L812.08 257.66L812.27 242.81L812.47 240.86L812.67 244.38L812.86 251.80L813.65 244.77L813.85 242.42L814.05 244.77L814.24 243.99L814.83 230.70L815.03 229.53L815.23 236.95L815.42 248.28L815.62 264.69L816.21 246.72L816.41 233.83L816.60 240.86L816.80 242.81L817.00 241.64L817.59 237.34L817.79 242.81L817.98 260.39L818.18 257.66L818.38 255.71L819.16 263.13L819.36 262.74L819.56 267.04L819.75 269.38L820.34 295.55L820.54 301.81L820.74 284.62L820.93 308.06L821.13 310.79L821.72 293.99L821.92 306.49L822.12 319.39L822.31 331.89L822.51 341.26L823.10 354.55L823.30 311.57L823.49 313.53L823.69 301.42L823.89 303.76L824.48 298.29L824.67 310.40L824.87 300.63L825.07 319.39L825.26 319.00L825.86 312.74L826.05 315.87L826.25 328.37L826.45 324.47L826.64 333.06L827.23 335.79L827.43 326.42L827.63 313.92L827.82 316.26L828.61 304.54L828.81 304.54L829.00 312.74L829.20 307.28L829.40 310.01L829.99 300.63L830.19 276.80L830.38 288.52L830.58 286.18L830.78 285.79L831.37 295.55L831.56 293.60L831.76 283.83L831.96 293.60L832.15 289.69L832.74 286.18L832.94 299.46L833.14 303.37L833.33 310.01L833.53 297.51L834.12 307.28L834.32 311.57L834.52 312.74L834.71 315.48L834.91 311.96L835.50 328.76L835.70 333.45L835.89 344.39L836.09 351.42L836.29 344.39L836.88 349.47L837.07 349.08L837.27 354.55L837.47 345.56L837.66 347.91L838.26 337.75L838.45 338.53L838.65 332.67L838.85 328.37L839.04 330.33L839.83 330.72L840.03 338.14L840.22 350.64L840.42 340.48L841.01 338.14L841.21 338.92L841.40 340.87L841.60 336.19L841.80 336.19L842.39 333.06L842.59 340.48L842.78 338.14L842.98 333.84L843.18 331.11L843.77 332.28L843.96 331.11L844.16 318.21L844.36 309.23L844.55 312.35L845.14 305.71L845.34 308.84L845.54 309.23L845.73 310.01L845.93 309.23L846.72 317.04L846.92 322.90L847.11 319.78L847.31 318.21L847.90 306.88L848.10 313.53L848.29 319.39L848.49 320.56L848.69 322.90L849.28 322.12L849.47 316.65L849.67 318.21L849.87 320.95L850.06 322.90L850.66 317.82L850.85 322.90L851.05 321.73L851.25 310.01L851.44 306.10L852.03 297.51L852.23 297.51L852.43 296.34L852.62 295.55L852.82 301.02L853.41 295.95L853.61 297.51L853.80 298.29L854.00 292.43L854.20 294.38L854.79 306.10L854.99 314.70L855.18 305.71L855.38 311.57L855.58 308.84L856.17 298.68L856.36 297.90L856.56 296.73L856.76 300.63L856.95 296.73L857.54 288.91L857.74 287.35L857.94 287.74L858.13 288.52L858.33 288.13L859.12 280.71L859.32 279.93L859.51 279.93L859.71 286.96L860.30 283.83L860.50 283.44L860.69 279.93L860.89 279.15L861.09 277.58L861.68 288.13L861.87 285.79L862.07 281.10L862.27 280.32L862.46 272.11L863.06 265.47L863.25 270.94L863.45 269.38L863.65 271.72L863.84 271.72L864.43 268.99L864.63 269.38L864.83 268.99L865.02 264.69L865.22 267.82L865.81 265.47L866.01 259.61L866.20 257.66L866.40 254.92L866.60 245.16L867.19 234.61L867.39 236.56L867.58 236.17L867.78 225.23L867.98 219.37L868.57 174.05L868.76 176.79L868.96 169.37L869.16 153.35L869.35 139.28L869.94 102.17L870.14 116.62L870.34 100.61L870.53 94.35L870.73 97.09L871.32 120.14L871.52 174.83L871.72 157.64L871.91 159.21L872.11 170.93L872.70 178.74L872.90 162.33L873.09 149.05L873.29 145.92L873.49 129.91L874.08 122.48L874.27 140.85L874.47 138.11L874.86 152.18L875.46 130.30L875.65 127.17L875.85 146.32L876.05 151.00L876.24 177.96L876.83 179.91L877.03 163.51L877.23 157.25L877.42 182.26L877.62 177.18L878.21 197.10L878.41 199.84L878.60 193.20L878.80 212.34L879.00 210.39L879.59 222.89L879.79 207.65L879.98 180.30L880.18 157.25L880.97 147.10L881.16 149.05L881.36 149.83L881.56 156.08L881.75 161.55L882.34 106.08L882.54 125.61L882.74 149.44L882.93 158.82L883.13 173.66L883.72 161.16L883.92 158.82L884.12 142.41L884.31 171.71L884.51 164.68L885.30 172.10L885.49 185.77L885.69 185.38L885.89 206.09L886.48 211.17L886.67 215.86L886.87 208.43L887.07 250.63L887.26 243.99L887.86 208.82L888.05 210.78L888.25 220.94L888.45 226.40L888.64 213.90L889.23 220.15L889.43 214.29L889.63 210.39L889.82 221.33L890.02 238.52L890.61 232.66L890.81 214.29L891.00 213.90L891.20 232.26L891.40 240.08L892.19 253.75L892.38 276.02L892.58 261.96L892.78 258.05L893.37 234.61L893.56 236.95L893.76 231.09L893.96 246.72L894.15 247.11L894.74 274.46L894.94 261.96L895.14 239.30L895.33 247.11L895.53 263.91L896.12 275.24L896.32 261.57L896.52 246.33L896.71 234.22L896.91 220.94L897.50 214.68L897.70 186.56L897.89 184.21L898.09 178.74L898.29 179.91L898.88 148.27L899.07 145.14L899.27 147.49L899.47 153.74L899.66 151.00L900.25 127.17L900.45 148.27L900.65 166.24L900.85 161.55L901.04 174.05L901.63 193.59L901.83 189.29L902.03 175.23L902.22 189.68L903.01 182.26L903.21 172.88L903.40 192.81L903.60 180.70L903.80 181.87L904.39 184.60L904.59 232.26L904.78 230.31L904.98 231.87L905.18 234.61L905.77 222.11L905.96 219.37L906.16 202.57L906.36 233.44L906.55 236.17L907.14 267.04L907.34 261.96L907.54 287.74L907.73 292.82" fill="none" stroke="#4A7EBB" stroke-width="3" stroke-linejoin="round" stroke-linecap="butt"/>
<path d="M54.50 572.50L201.53 572.50L201.81 571.50L202.10 571.50L202.39 572.50L213.25 572.50L213.53 571.50L213.82 571.50L214.10 572.50L214.39 571.50L214.67 572.50L214.95 571.50L215.24 572.50L216.66 572.50L216.94 571.50L217.22 571.50L217.51 572.50L237.99 572.50L238.28 571.50L238.57 572.50L238.86 572.50L239.15 571.50L241.76 571.50L242.05 572.50L242.92 572.50L243.21 571.50L243.50 571.50L243.79 572.50L244.37 572.50L244.66 571.50L354.58 571.50L354.87 570.50L356.86 570.50L357.15 571.50L358.89 571.50L359.18 570.50L359.48 571.50L366.47 571.50L366.76 570.50L373.45 570.50L373.75 571.50L376.66 571.50L376.94 570.50L384.09 570.50L384.38 571.50L387.28 571.50L387.57 570.50L388.73 570.50L389.02 571.50L389.31 570.50L396.47 570.50L396.75 571.50L397.31 571.50L397.59 570.50L398.16 570.50L398.44 571.50L398.72 571.50L399.00 570.50L409.04 570.50L409.32 571.50L409.60 570.50L421.15 570.50L421.44 571.50L435.45 571.50L435.74 570.50L451.16 570.50L451.44 571.50L463.40 571.50L463.69 570.50L464.25 570.50L464.54 571.50L464.82 570.50L466.24 570.50L466.52 571.50L466.81 571.50L467.09 570.50L469.65 570.50L469.94 571.50L473.36 571.50L473.65 570.50L475.63 570.50L475.92 571.50L485.55 571.50L485.83 570.50L579.04 570.50L579.32 569.50L579.61 570.50L579.90 570.50L580.18 569.50L581.90 569.50L582.19 570.50L582.75 570.50L583.03 569.50L601.87 569.50L602.15 570.50L602.43 569.50L615.51 569.50L615.80 570.50L616.09 569.50L662.59 569.50L662.88 570.50L668.68 570.50L668.97 569.50L727.58 569.50L727.87 568.50L728.15 569.50L731.29 569.50L731.58 568.50L731.86 569.50L732.15 569.50L732.44 568.50L732.72 568.50L733.01 569.50L734.15 569.50L734.44 568.50L735.01 568.50L735.30 569.50L735.58 568.50L748.60 568.50L748.90 569.50L751.80 569.50L752.14 570.50L756.24 570.50L756.53 569.50L768.52 569.50L768.80 568.50L769.66 568.50L769.96 569.50L773.99 569.50L774.28 568.50L774.57 569.50L776.31 569.50L776.60 568.50L806.14 568.50L806.43 567.50L814.48 567.50L814.76 568.50L815.05 568.50L815.34 567.50L839.89 567.50L840.17 566.50L840.45 567.50L840.74 566.50L841.02 566.50L841.30 567.50L843.56 567.50L843.84 566.50L892.08 566.50L892.38 567.50L893.23 567.50L893.52 566.50L893.80 566.50L894.09 567.50L895.53 567.50L895.83 566.50L904.29 566.50L904.59 567.50L905.83 567.50L906.16 566.50L906.47 567.50L907.73 567.50" fill="none" stroke="#BE4B48" stroke-width="3" stroke-linejoin="round" stroke-linecap="butt"/>
<g style="will-change:transform"><text x="43.7" y="578.70" text-anchor="end" letter-spacing="0.9">0</text><text x="43.7" y="485.37" text-anchor="end" letter-spacing="0.9">5000</text><text x="43.7" y="392.03" text-anchor="end" letter-spacing="0.9">10000</text><text x="43.7" y="298.70" text-anchor="end" letter-spacing="0.9">15000</text><text x="43.7" y="205.37" text-anchor="end" letter-spacing="0.9">20000</text><text x="43.7" y="112.03" text-anchor="end" letter-spacing="0.9">25000</text><text x="43.7" y="18.70" text-anchor="end" letter-spacing="0.9">30000</text><text x="55.15" y="596.2" text-anchor="middle" letter-spacing="0.5">2010-06-29</text><text x="199.15" y="596.2" text-anchor="middle" letter-spacing="0.5">2012-06-29</text><text x="343.15" y="596.2" text-anchor="middle" letter-spacing="0.5">2014-06-29</text><text x="486.15" y="596.2" text-anchor="middle" letter-spacing="0.5">2016-06-29</text><text x="630.15" y="596.2" text-anchor="middle" letter-spacing="0.5">2018-06-29</text><text x="774.15" y="596.2" text-anchor="middle" letter-spacing="0.5">2020-06-29</text></g>
<line x1="929.6" y1="291.5" x2="954.7" y2="291.5" stroke="#4A7EBB" stroke-width="3" stroke-linecap="round"/>
<line x1="929.6" y1="316.5" x2="954.7" y2="316.5" stroke="#BE4B48" stroke-width="3" stroke-linecap="round"/>
<g style="will-change:transform"><text x="957.3" y="296.0" letter-spacing="0.3">Tesla Inc.</text>
<text x="957.3" y="321.0" letter-spacing="0.4">S&amp;P500 <tspan font-size="12.5" letter-spacing="0.6">지수</tspan></text></g>
</svg>
</body></html>
